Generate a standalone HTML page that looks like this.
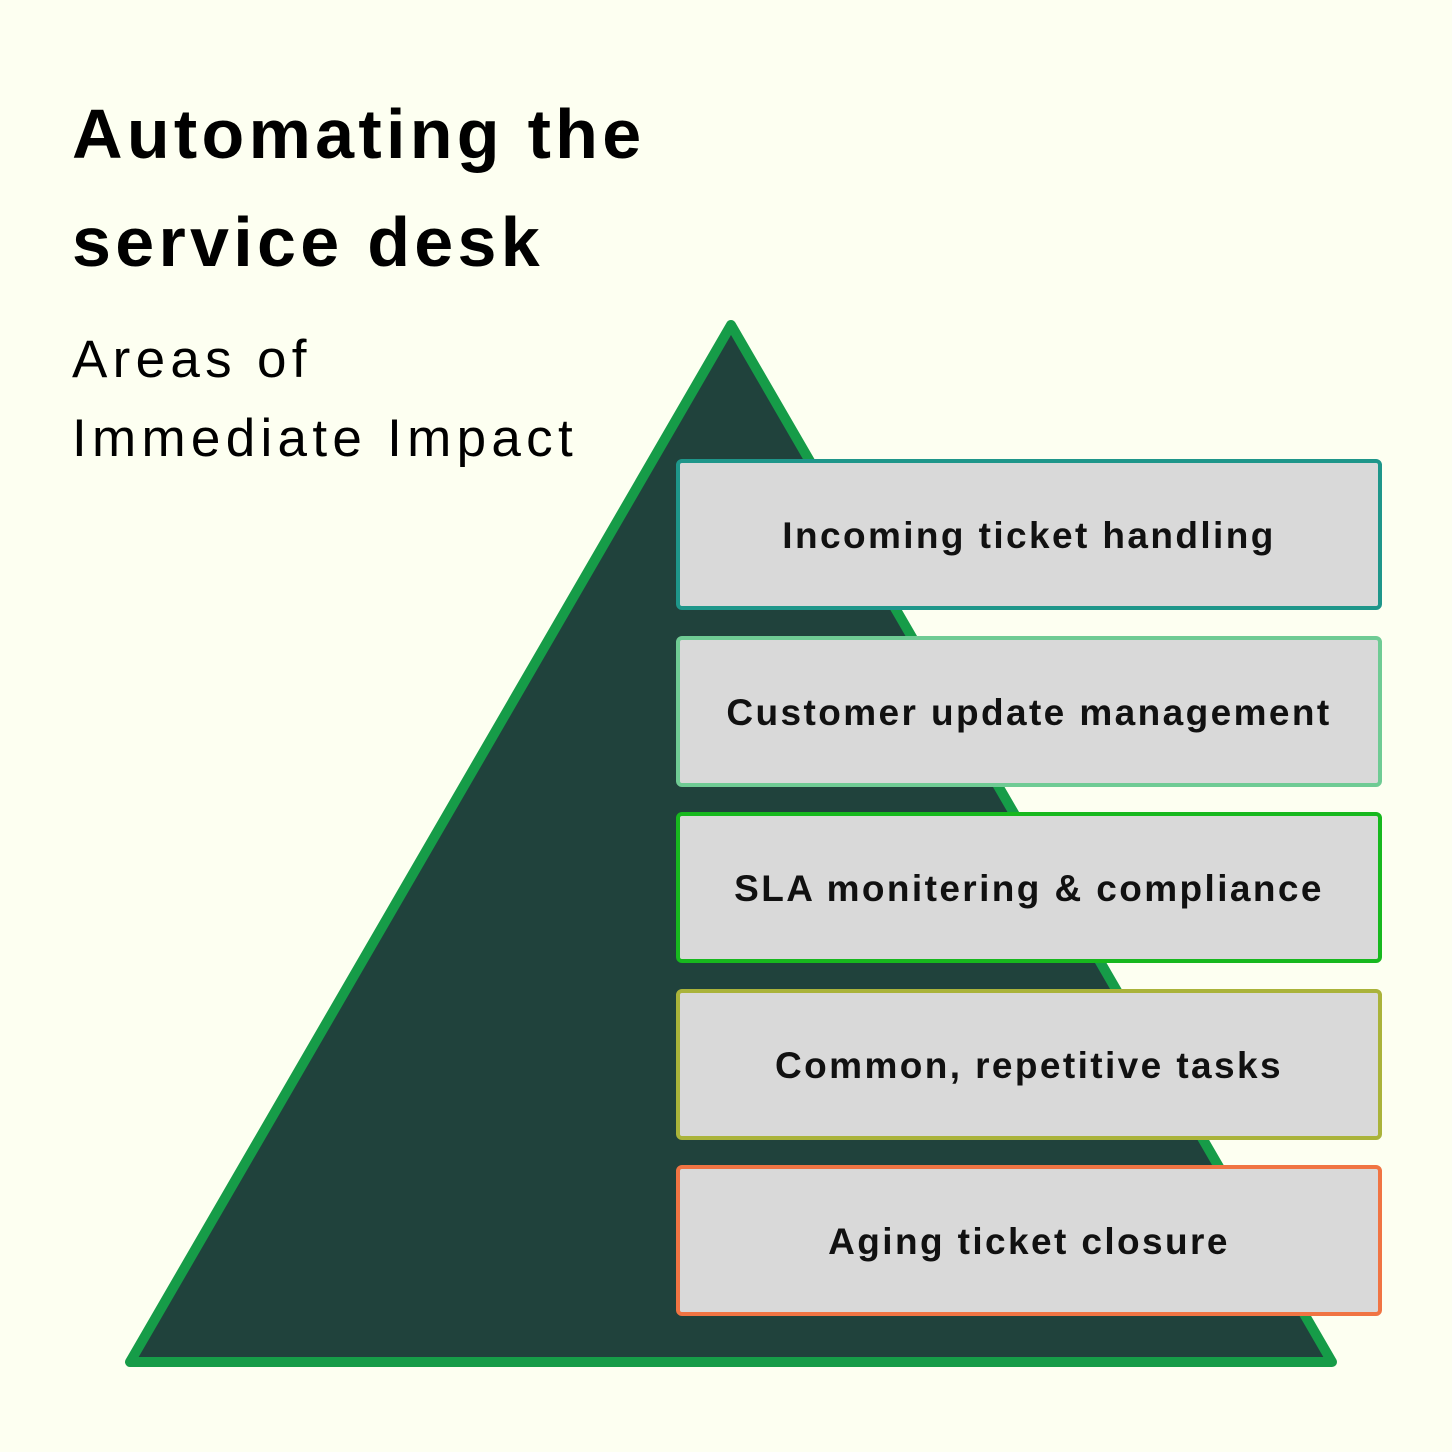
<!DOCTYPE html>
<html><head><style>
html,body{margin:0;padding:0;background:#fdfff1;}
body{width:1452px;height:1452px;position:relative;overflow:hidden;font-family:"Liberation Sans",sans-serif;color:#000;}
.t{position:absolute;left:72px;white-space:nowrap;}
.box{position:absolute;left:676px;width:698px;height:143px;background:#d9d9d9;border:4px solid;border-radius:6px;display:flex;align-items:center;justify-content:center;font-weight:bold;font-size:37px;letter-spacing:2.4px;color:#111;box-sizing:content-box;padding-top:0;}
.box span{position:relative;top:1px;}
</style></head><body>
<svg width="1452" height="1452" style="position:absolute;left:0;top:0">
<polygon points="731,325 130,1362 1332,1362" fill="#20423c" stroke="#169c48" stroke-width="10" stroke-linejoin="round"/>
</svg>
<div class="t" style="top:80px;font-size:70px;letter-spacing:4.3px;font-weight:bold;line-height:108px;">Automating the<br>service desk</div>
<div class="t" style="top:320px;font-size:53px;letter-spacing:5.3px;line-height:79px;">Areas of<br>Immediate Impact</div>
<div class="box" style="top:459px;border-color:#1e968a"><span>Incoming ticket handling</span></div>
<div class="box" style="top:636px;border-color:#6fcb94"><span>Customer update management</span></div>
<div class="box" style="top:812px;border-color:#17b81e"><span>SLA monitering &amp; compliance</span></div>
<div class="box" style="top:989px;border-color:#aab33a"><span>Common, repetitive tasks</span></div>
<div class="box" style="top:1165px;border-color:#f07443"><span>Aging ticket closure</span></div>
</body></html>
